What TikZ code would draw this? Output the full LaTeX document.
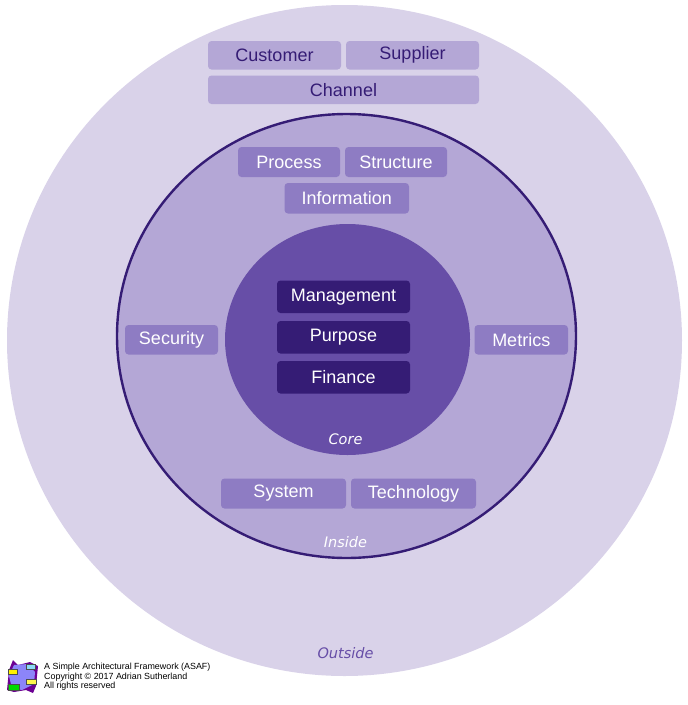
\documentclass[tikz,border=0pt]{standalone}
\usepackage{fontspec}
\setmainfont{Liberation Sans}
\newfontfamily\vfont{DejaVu Sans}
\definecolor{outerc}{HTML}{D9D2E9}
\definecolor{innerc}{HTML}{B4A7D6}
\definecolor{corec}{HTML}{674EA7}
\definecolor{darkc}{HTML}{351C75}
\definecolor{midc}{HTML}{8E7CC3}
\tikzset{
 boxbase/.style={anchor=center,inner sep=0pt,rounded corners=3.5pt,font=\fontsize{18}{20}\selectfont},
 outbox/.style={boxbase,fill=innerc,text=darkc},
 inbox/.style={boxbase,fill=midc,text=white},
 corebox/.style={boxbase,fill=darkc,text=white},
 ring/.style={inner sep=0pt},
 zone/.style={font=\vfont\itshape\fontsize{14.5}{16}\selectfont,inner sep=0pt},
 foot/.style={anchor=west,inner sep=0pt,font=\fontsize{8.9}{10}\selectfont,text=black}
}
\newcommand{\bx}[7]{% style,name,x0,y0,x1,y1,text
 \path[#1] (#3,#4) rectangle (#5,#6);
 \node[#1,fill=none,rounded corners=0pt] (#2) at ({(#3+#5)/2},{(#4+#6)/2}) {#7};}
\begin{document}
\begin{tikzpicture}[x=1pt,y=-1pt]
\useasboundingbox (0,0) rectangle (688,705);
\path[fill=outerc] (344.5,340.5) ellipse [x radius=337.5,y radius=335.5];
\path[fill=innerc,draw=darkc,line width=2.4pt] (346.5,336) ellipse [x radius=229.5,y radius=222];
\path[fill=corec] (347.5,339.5) ellipse [x radius=122.5,y radius=115.5];
\bx{outbox}{customer}{208}{41}{341}{69.5}{Customer}
\bx{outbox}{supplier}{346}{41}{479}{69.5}{Supplier}
\bx{outbox}{channel}{208}{75.5}{479}{104}{Channel}
\bx{inbox}{process}{238}{147}{340}{177}{Process}
\bx{inbox}{structure}{345}{147}{447}{177}{Structure}
\bx{inbox}{information}{284.5}{183}{409}{213.5}{Information}
\bx{corebox}{management}{277}{280.5}{410}{313}{Management}
\bx{corebox}{purpose}{277}{321}{410}{353.5}{Purpose}
\bx{corebox}{finance}{277}{361}{410}{393.5}{Finance}
\bx{inbox}{security}{125}{325}{218}{354.5}{Security}
\bx{inbox}{metrics}{474.5}{325}{568}{354.5}{Metrics}
\bx{inbox}{system}{221}{478.5}{346}{508.5}{System}
\bx{inbox}{technology}{351}{478.5}{476}{508.5}{Technology}
\node[zone,text=white] (core) at (345.5,439) {Core};
\node[zone,text=white] (inside) at (345.5,542) {Inside};
\node[zone,text=corec] (outside) at (345.5,653.5) {Outside};
% logo
\path[fill=violet!85!blue] (13,660) -- (18,665) -- (30,662) -- (38,666) -- (36,686) -- (33,693) -- (26,690) -- (14,692) -- (7,690) -- (9,670) -- cycle;
\path[fill=blue!45!white!95!violet] (14,665) -- (28,664) -- (35,672) -- (34,684) -- (22,690) -- (12,688) -- (9,676) -- cycle;
\path[fill=cyan!45,draw=black!70,line width=.5pt] (26,664) rectangle (35.5,669.5);
\path[fill=yellow,draw=black!70,line width=.5pt] (8,669) rectangle (17.5,674);
\path[fill=yellow!70!white,draw=black!70,line width=.5pt] (26.5,679) rectangle (36,684);
\path[fill=green!85!black,draw=black!70,line width=.5pt] (8,684.5) rectangle (19,690);
\node[foot] (f1) at (44,667) {A Simple Architectural Framework (ASAF)};
\node[foot] (f2) at (44,677) {Copyright © 2017 Adrian Sutherland};
\node[foot] (f3) at (44,686.5) {All rights reserved};
\end{tikzpicture}
\end{document}
